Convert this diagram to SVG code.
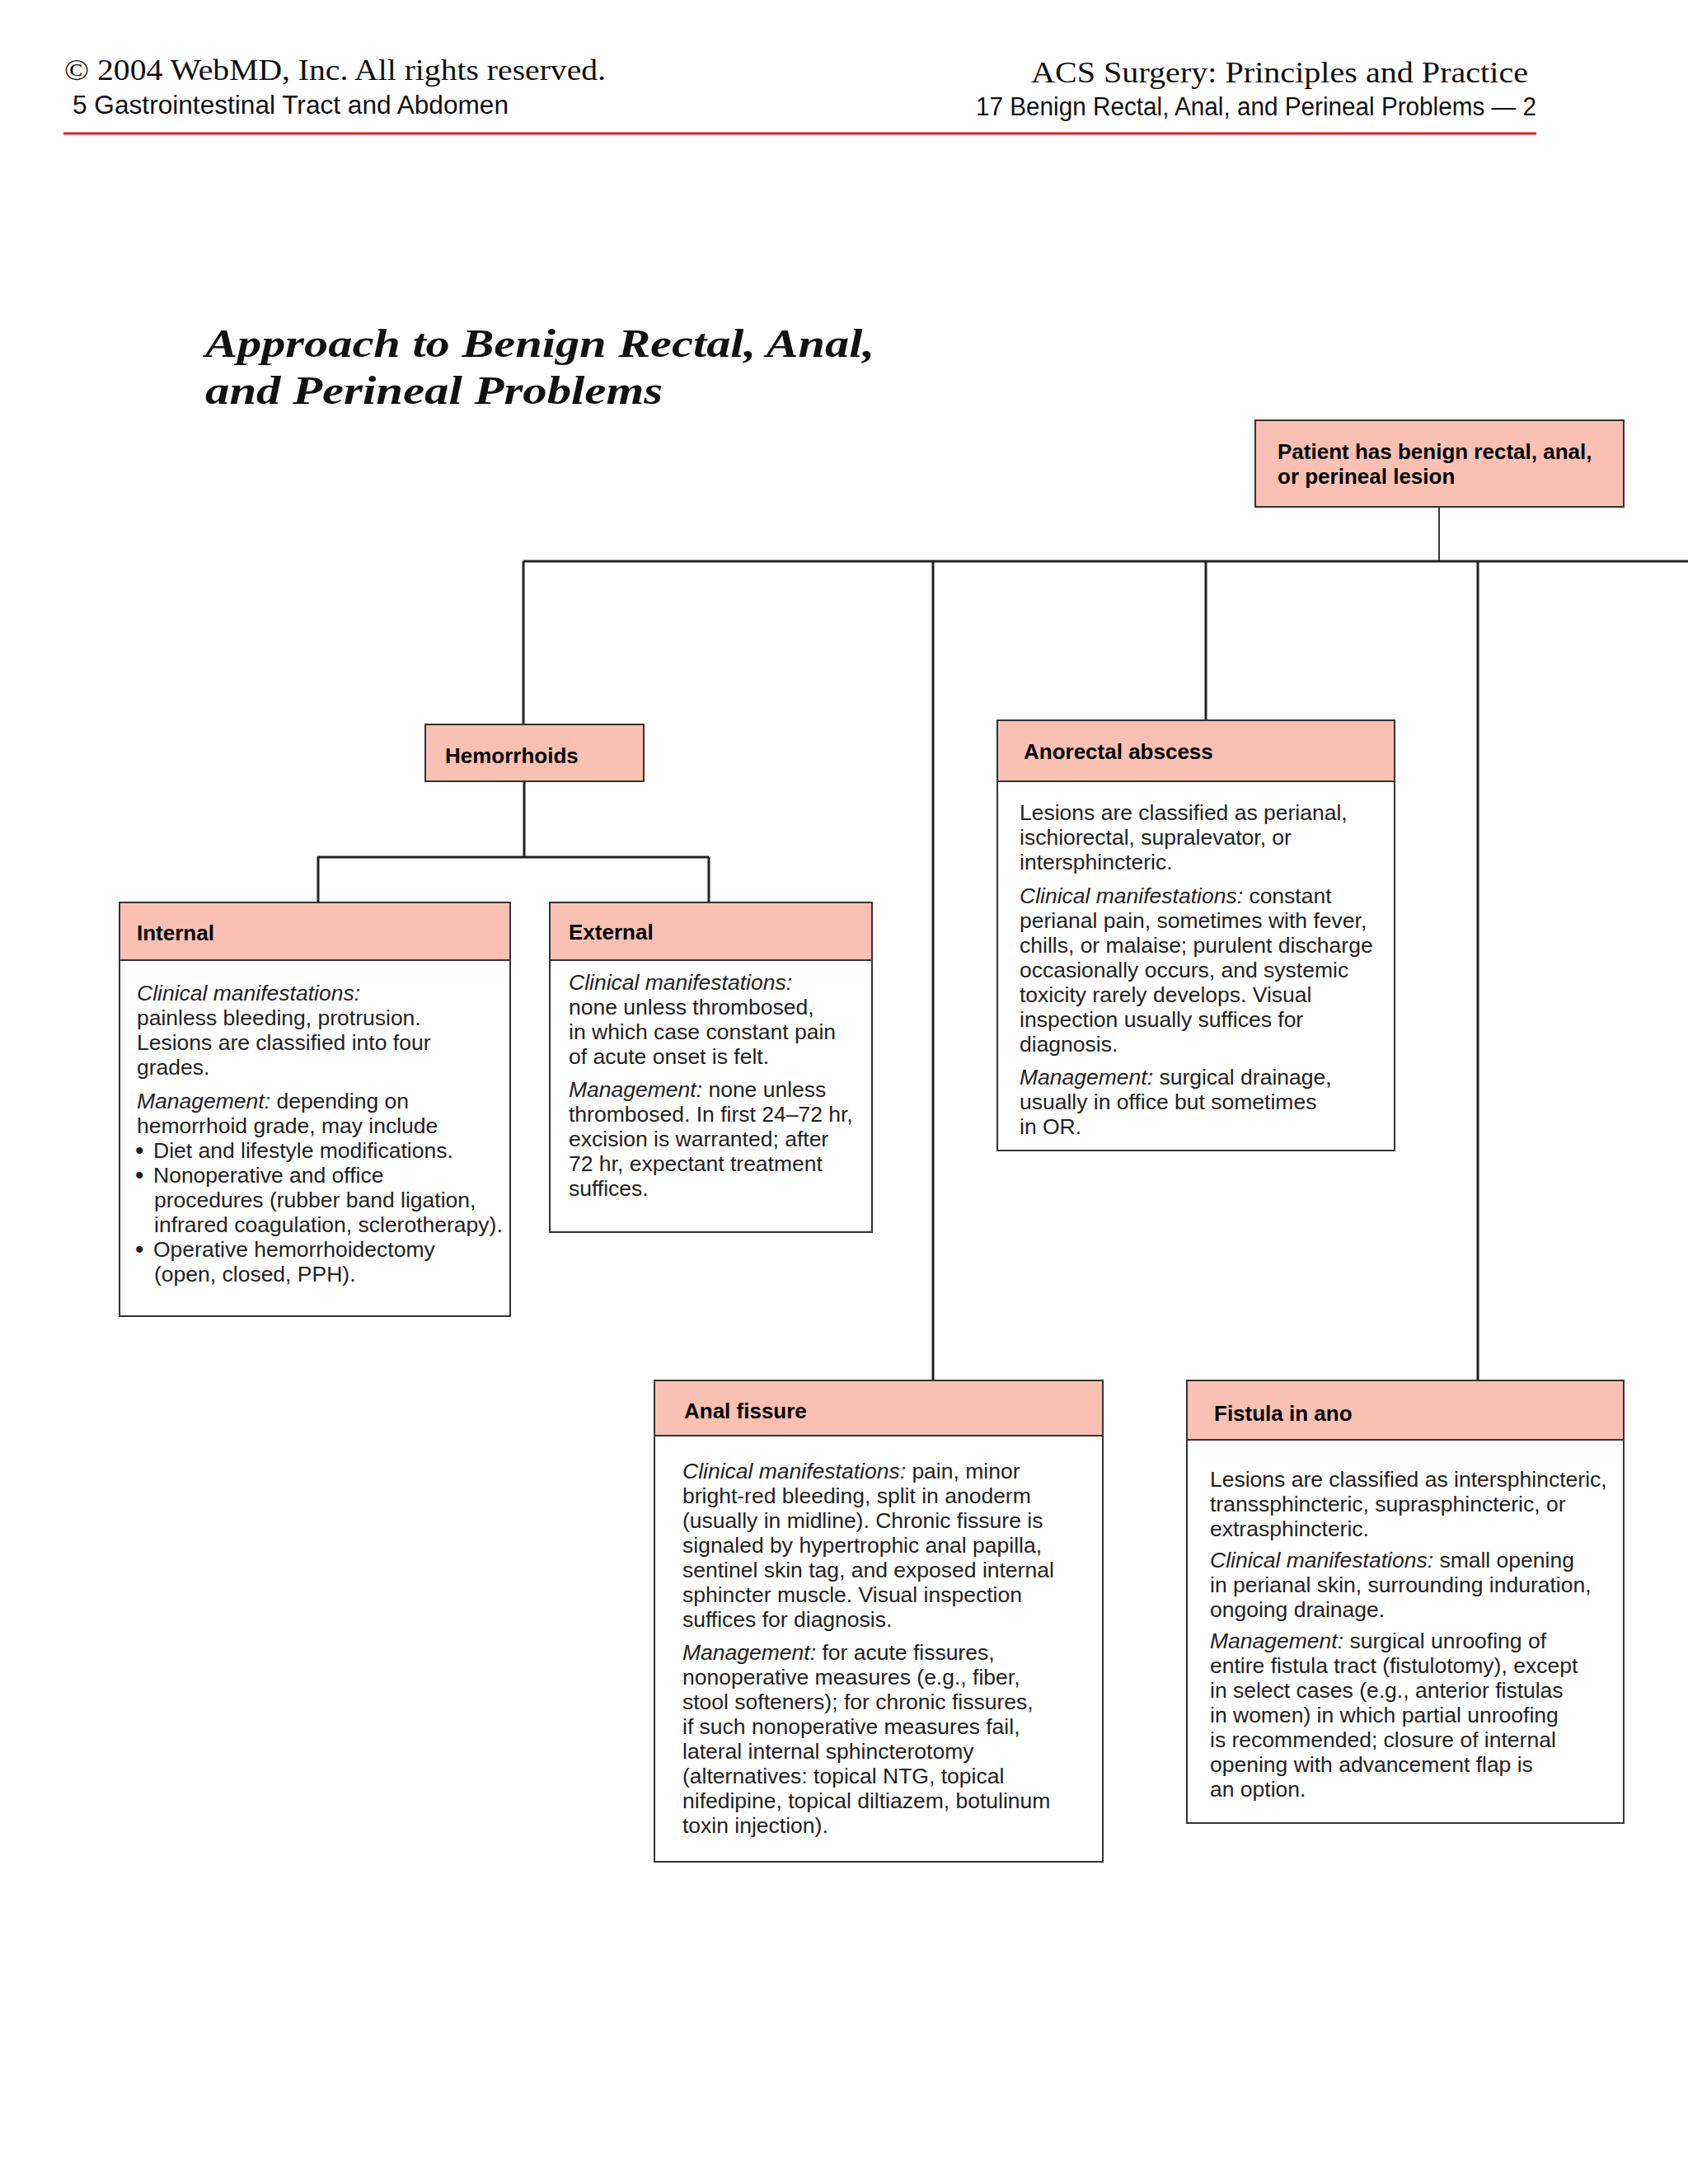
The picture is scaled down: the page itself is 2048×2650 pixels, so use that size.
<svg xmlns="http://www.w3.org/2000/svg" width="2048" height="2650" viewBox="0 0 2048 2650">
<style>
.hd{fill:#f9c0b3;stroke:#333;stroke-width:2}
.bx{fill:#fff;stroke:#333;stroke-width:2}
.t{font-family:"Liberation Sans",Arial,sans-serif;font-size:26.5px;fill:#222}
.i{font-style:italic}
.bl{font-size:30px}
.h{font-family:"Liberation Sans",Arial,sans-serif;font-size:26px;font-weight:bold;fill:#000}
.c{fill:none;stroke:#222;stroke-width:3}
.c2{fill:none;stroke:#333;stroke-width:2}
.ser{font-family:"Liberation Serif","Times New Roman",serif;fill:#111}
.sans{font-family:"Liberation Sans",Arial,sans-serif;fill:#111}
</style>
<rect width="2048" height="2650" fill="#fff"/>
<g id="page-header">
<text class="ser" x="78" y="97" font-size="36" textLength="657" lengthAdjust="spacingAndGlyphs">© 2004 WebMD, Inc. All rights reserved.</text>
<text class="sans" x="88" y="138" font-size="31" textLength="529" lengthAdjust="spacingAndGlyphs">5 Gastrointestinal Tract and Abdomen</text>
<text class="ser" x="1854" y="100" font-size="36" text-anchor="end" textLength="603" lengthAdjust="spacingAndGlyphs">ACS Surgery: Principles and Practice</text>
<text class="sans" x="1864" y="140" font-size="31" text-anchor="end" textLength="680" lengthAdjust="spacingAndGlyphs">17 Benign Rectal, Anal, and Perineal Problems — 2</text>
<line x1="77" y1="162" x2="1864" y2="162" stroke="#d8232a" stroke-width="3"/>
</g>
<g id="title">
<text class="ser" x="249" y="433" font-size="48" font-weight="bold" font-style="italic" textLength="812" lengthAdjust="spacingAndGlyphs">Approach to Benign Rectal, Anal,</text>
<text class="ser" x="249" y="490" font-size="48" font-weight="bold" font-style="italic" textLength="555" lengthAdjust="spacingAndGlyphs">and Perineal Problems</text>
</g>
<g id="connectors">
<path class="c2" d="M1746 615 V681"/>
<path class="c" d="M635 681 H2048"/>
<path class="c" d="M635 681 V879"/>
<path class="c" d="M1132 681 V1675"/>
<path class="c" d="M1463 681 V874"/>
<path class="c" d="M1793 681 V1675"/>
<path class="c" d="M636 948 V1040"/>
<path class="c" d="M385 1040 H860"/>
<path class="c" d="M386 1040 V1095"/>
<path class="c" d="M860 1040 V1095"/>
</g>
<g id="node-patient">
<rect class="hd" x="1523" y="510" width="447" height="105"/>
<text class="h" x="1550" y="557">Patient has benign rectal, anal,</text>
<text class="h" x="1550" y="587">or perineal lesion</text>
</g>
<g id="node-hemorrhoids">
<rect class="hd" x="516" y="879" width="265" height="69"/>
<text class="h" x="540" y="926">Hemorrhoids</text>
</g>
<g id="node-internal">
<rect class="bx" x="145" y="1095" width="474" height="502"/>
<rect class="hd" x="145" y="1095" width="474" height="70"/>
<text class="h" x="166" y="1141">Internal</text>
<text class="t">
<tspan x="166" y="1214" class="i">Clinical manifestations:</tspan>
<tspan x="166" y="1244">painless bleeding, protrusion.</tspan>
<tspan x="166" y="1274">Lesions are classified into four</tspan>
<tspan x="166" y="1304">grades.</tspan>
<tspan x="166" y="1345"><tspan class="i">Management:</tspan> depending on</tspan>
<tspan x="166" y="1375">hemorrhoid grade, may include</tspan>
<tspan x="164" y="1406" class="bl">•</tspan><tspan x="186" y="1405">Diet and lifestyle modifications.</tspan>
<tspan x="164" y="1436" class="bl">•</tspan><tspan x="186" y="1435">Nonoperative and office</tspan>
<tspan x="187" y="1465">procedures (rubber band ligation,</tspan>
<tspan x="187" y="1495">infrared coagulation, sclerotherapy).</tspan>
<tspan x="164" y="1526" class="bl">•</tspan><tspan x="186" y="1525">Operative hemorrhoidectomy</tspan>
<tspan x="187" y="1555">(open, closed, PPH).</tspan>
</text>
</g>
<g id="node-external">
<rect class="bx" x="667" y="1095" width="391" height="400"/>
<rect class="hd" x="667" y="1095" width="391" height="70"/>
<text class="h" x="690" y="1140">External</text>
<text class="t">
<tspan x="690" y="1201" class="i">Clinical manifestations:</tspan>
<tspan x="690" y="1231">none unless thrombosed,</tspan>
<tspan x="690" y="1261">in which case constant pain</tspan>
<tspan x="690" y="1291">of acute onset is felt.</tspan>
<tspan x="690" y="1331"><tspan class="i">Management:</tspan> none unless</tspan>
<tspan x="690" y="1361">thrombosed. In first 24–72 hr,</tspan>
<tspan x="690" y="1391">excision is warranted; after</tspan>
<tspan x="690" y="1421">72 hr, expectant treatment</tspan>
<tspan x="690" y="1451">suffices.</tspan>
</text>
</g>
<g id="node-anorectal-abscess">
<rect class="bx" x="1210" y="874" width="482" height="522"/>
<rect class="hd" x="1210" y="874" width="482" height="74"/>
<text class="h" x="1242" y="921">Anorectal abscess</text>
<text class="t">
<tspan x="1237" y="995">Lesions are classified as perianal,</tspan>
<tspan x="1237" y="1025">ischiorectal, supralevator, or</tspan>
<tspan x="1237" y="1055">intersphincteric.</tspan>
<tspan x="1237" y="1096"><tspan class="i">Clinical manifestations:</tspan> constant</tspan>
<tspan x="1237" y="1126">perianal pain, sometimes with fever,</tspan>
<tspan x="1237" y="1156">chills, or malaise; purulent discharge</tspan>
<tspan x="1237" y="1186">occasionally occurs, and systemic</tspan>
<tspan x="1237" y="1216">toxicity rarely develops. Visual</tspan>
<tspan x="1237" y="1246">inspection usually suffices for</tspan>
<tspan x="1237" y="1276">diagnosis.</tspan>
<tspan x="1237" y="1316"><tspan class="i">Management:</tspan> surgical drainage,</tspan>
<tspan x="1237" y="1346">usually in office but sometimes</tspan>
<tspan x="1237" y="1376">in OR.</tspan>
</text>
</g>
<g id="node-anal-fissure">
<rect class="bx" x="794" y="1675" width="544" height="584"/>
<rect class="hd" x="794" y="1675" width="544" height="67"/>
<text class="h" x="830" y="1721">Anal fissure</text>
<text class="t">
<tspan x="828" y="1794"><tspan class="i">Clinical manifestations:</tspan> pain, minor</tspan>
<tspan x="828" y="1824">bright-red bleeding, split in anoderm</tspan>
<tspan x="828" y="1854">(usually in midline). Chronic fissure is</tspan>
<tspan x="828" y="1884">signaled by hypertrophic anal papilla,</tspan>
<tspan x="828" y="1914">sentinel skin tag, and exposed internal</tspan>
<tspan x="828" y="1944">sphincter muscle. Visual inspection</tspan>
<tspan x="828" y="1974">suffices for diagnosis.</tspan>
<tspan x="828" y="2014"><tspan class="i">Management:</tspan> for acute fissures,</tspan>
<tspan x="828" y="2044">nonoperative measures (e.g., fiber,</tspan>
<tspan x="828" y="2074">stool softeners); for chronic fissures,</tspan>
<tspan x="828" y="2104">if such nonoperative measures fail,</tspan>
<tspan x="828" y="2134">lateral internal sphincterotomy</tspan>
<tspan x="828" y="2164">(alternatives: topical NTG, topical</tspan>
<tspan x="828" y="2194">nifedipine, topical diltiazem, botulinum</tspan>
<tspan x="828" y="2224">toxin injection).</tspan>
</text>
</g>
<g id="node-fistula-in-ano">
<rect class="bx" x="1440" y="1675" width="530" height="537"/>
<rect class="hd" x="1440" y="1675" width="530" height="72"/>
<text class="h" x="1473" y="1724">Fistula in ano</text>
<text class="t">
<tspan x="1468" y="1804">Lesions are classified as intersphincteric,</tspan>
<tspan x="1468" y="1834">transsphincteric, suprasphincteric, or</tspan>
<tspan x="1468" y="1864">extrasphincteric.</tspan>
<tspan x="1468" y="1902"><tspan class="i">Clinical manifestations:</tspan> small opening</tspan>
<tspan x="1468" y="1932">in perianal skin, surrounding induration,</tspan>
<tspan x="1468" y="1962">ongoing drainage.</tspan>
<tspan x="1468" y="2000"><tspan class="i">Management:</tspan> surgical unroofing of</tspan>
<tspan x="1468" y="2030">entire fistula tract (fistulotomy), except</tspan>
<tspan x="1468" y="2060">in select cases (e.g., anterior fistulas</tspan>
<tspan x="1468" y="2090">in women) in which partial unroofing</tspan>
<tspan x="1468" y="2120">is recommended; closure of internal</tspan>
<tspan x="1468" y="2150">opening with advancement flap is</tspan>
<tspan x="1468" y="2180">an option.</tspan>
</text>
</g>
</svg>
